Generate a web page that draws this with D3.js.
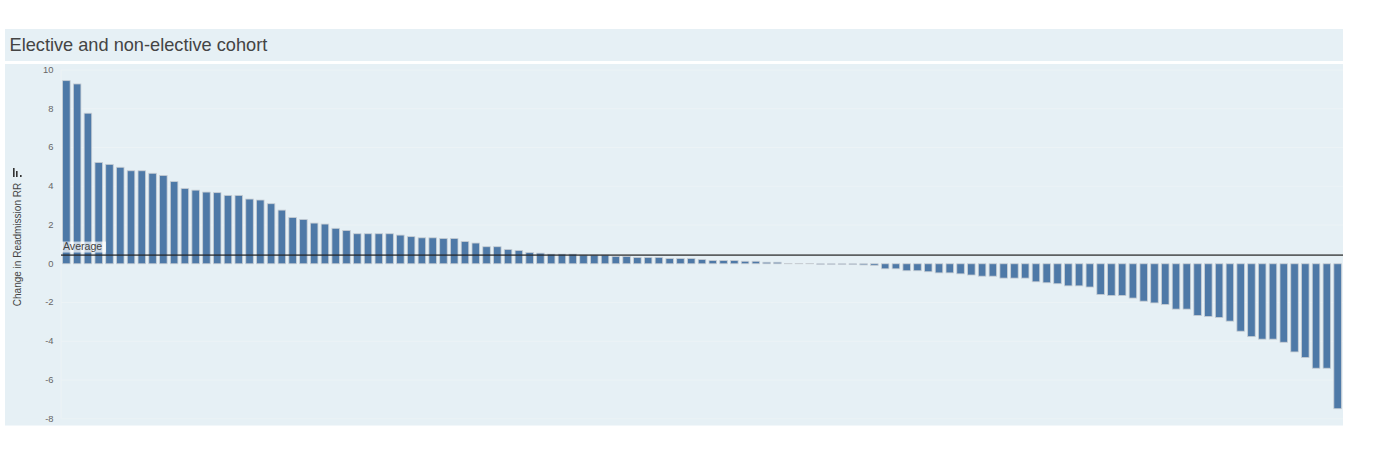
<!DOCTYPE html>
<html>
<head>
<meta charset="utf-8">
<script src="https://cdn.jsdelivr.net/npm/d3@7"></script>
<style>
  html, body { margin: 0; padding: 0; background: #fff; }
  svg { display: block; font-family: "Liberation Sans", Arial, sans-serif; }
</style>
</head>
<body>
<div id="chart"></div>
<script>
// chart values
const title = "Elective and non-elective cohort";
const yLabel = "Change in Readmission RR";
const averageLabel = "Average";
const average = 0.45;
const yTicks = [10, 8, 6, 4, 2, 0, -2, -4, -6, -8];
const changes = [
  9.45, 9.28, 7.77, 5.23, 5.13, 4.98, 4.8, 4.8, 4.67, 4.56,
  4.24, 3.89, 3.8, 3.7, 3.67, 3.53, 3.53, 3.34, 3.29, 3.1,
  2.77, 2.39, 2.29, 2.1, 2.05, 1.83, 1.72, 1.55, 1.55, 1.55,
  1.55, 1.48, 1.4, 1.34, 1.34, 1.31, 1.31, 1.15, 1.07, 0.88,
  0.88, 0.74, 0.69, 0.58, 0.55, 0.5, 0.5, 0.5, 0.45, 0.45,
  0.45, 0.38, 0.38, 0.33, 0.33, 0.33, 0.27, 0.27, 0.27, 0.22,
  0.17, 0.17, 0.17, 0.13, 0.13, 0.08, 0.08, 0.02, 0.02, 0.02,
  -0.03, -0.03, -0.03, -0.04, -0.06, -0.08, -0.26, -0.26, -0.36, -0.36,
  -0.41, -0.47, -0.47, -0.52, -0.58, -0.64, -0.64, -0.74, -0.74, -0.74,
  -0.93, -0.98, -1.03, -1.14, -1.14, -1.2, -1.59, -1.64, -1.64, -1.77,
  -1.93, -2.02, -2.1, -2.34, -2.34, -2.67, -2.72, -2.77, -2.96, -3.48,
  -3.76, -3.89, -3.89, -4.05, -4.55, -4.84, -5.39, -5.39, -7.48
];

const svgWidth = 1384;
const svgHeight = 449;
const panelColor = "#e6f0f5";

const svg = d3.select("#chart").append("svg")
  .attr("width", svgWidth)
  .attr("height", svgHeight);

// title strip and plot panel
svg.append("rect").attr("x", 5).attr("y", 29).attr("width", 1338).attr("height", 32).attr("fill", panelColor);
svg.append("rect").attr("x", 5).attr("y", 64).attr("width", 1338).attr("height", 361.5).attr("fill", panelColor);

svg.append("text")
  .attr("x", 9.5).attr("y", 50.5)
  .attr("font-size", 18.2)
  .attr("fill", "#444")
  .text(title);

const xScale = d3.scaleBand()
  .domain(d3.range(changes.length))
  .range([61, 1343])
  .paddingInner(0.3)
  .paddingOuter(0.15);

const yScale = d3.scaleLinear()
  .domain([-8, 10])
  .range([418.8, 70]);

// y axis with faint gridlines
const leftAxis = d3.axisLeft(yScale)
  .tickValues(yTicks)
  .tickFormat(d => String(d))
  .tickSize(0)
  .tickPadding(7);

const axisG = svg.append("g")
  .attr("transform", "translate(60.5,-0.7)")
  .call(leftAxis);

axisG.select(".domain").attr("stroke", "#edf3f6");
axisG.selectAll("text")
  .attr("font-size", 9.4)
  .attr("font-family", "Liberation Sans, Arial, sans-serif")
  .attr("fill", "#666");

svg.append("g").selectAll("line")
  .data(yTicks)
  .enter()
  .append("line")
  .attr("x1", 61)
  .attr("x2", 1343)
  .attr("y1", d => yScale(d))
  .attr("y2", d => yScale(d))
  .attr("stroke", "#ecf3f6");

svg.append("text")
  .attr("transform", `translate(20.5,244.5) rotate(-90)`)
  .attr("text-anchor", "middle")
  .attr("font-size", 10)
  .attr("fill", "#444")
  .text(yLabel);

// small bar icon above the axis title
svg.append("g").attr("fill", "#333").selectAll("rect")
  .data([[13, 168, 9], [16, 171, 6], [20, 175, 2]])
  .enter()
  .append("rect")
  .attr("x", d => d[0])
  .attr("y", d => d[1])
  .attr("width", 1.6)
  .attr("height", d => d[2]);

// bars
svg.append("g").selectAll("rect")
  .data(changes)
  .enter()
  .append("rect")
  .attr("x", (d, i) => xScale(i))
  .attr("width", xScale.bandwidth())
  .attr("y", d => yScale(Math.max(d, 0)))
  .attr("height", d => Math.abs(yScale(d) - yScale(0)))
  .attr("fill", "#4e79a7")
  .attr("stroke", "#c8ced4")
  .attr("stroke-width", 0.8);

// average reference line and its label
svg.append("line")
  .attr("x1", 61)
  .attr("x2", 1343)
  .attr("y1", yScale(average))
  .attr("y2", yScale(average))
  .attr("stroke", "#222")
  .attr("stroke-opacity", 0.7)
  .attr("stroke-width", 1.8);

svg.append("rect")
  .attr("x", 62).attr("y", yScale(average) - 13.5)
  .attr("width", 44).attr("height", 11)
  .attr("fill", "#fff").attr("fill-opacity", 0.7);

svg.append("text")
  .attr("x", 63).attr("y", yScale(average) - 5)
  .attr("font-size", 10.6)
  .attr("fill", "#444")
  .text(averageLabel);
</script>
</body>
</html>
